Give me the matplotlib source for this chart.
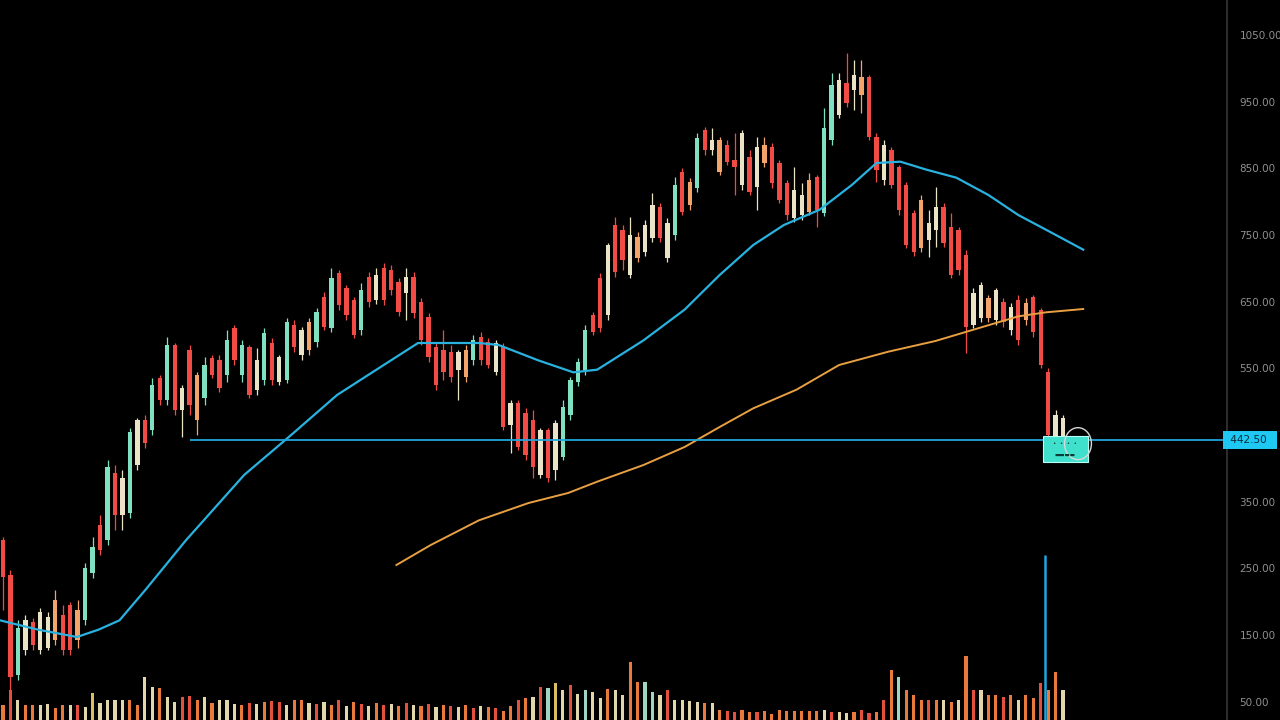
import matplotlib

matplotlib.use("Agg")
import matplotlib.pyplot as plt
from matplotlib.patches import Rectangle, Ellipse

# candle OHLC, in chart price units
opens = [292, 240, 90, 128, 170, 128, 130, 142, 180, 195,
         142, 172, 243, 315, 292, 393, 330, 333, 405, 472,
         458, 536, 502, 585, 488, 578, 540, 506, 566, 562,
         540, 610, 540, 582, 518, 532, 588, 530, 532, 615,
         570, 578, 590, 657, 610, 693, 670, 652, 607, 687,
         652, 700, 698, 680, 663, 687, 650, 627, 582, 578,
         574, 548, 578, 562, 597, 590, 544, 582, 465, 498,
         483, 472, 390, 458, 398, 417, 480, 530, 548, 630,
         686, 630, 765, 758, 690, 747, 724, 746, 792, 716,
         750, 844, 830, 820, 908, 878, 892, 885, 862, 825,
         867, 822, 885, 882, 858, 828, 776, 780, 784, 837,
         783, 892, 930, 978, 968, 960, 987, 897, 832, 878,
         852, 825, 783, 802, 742, 758, 792, 762, 758, 720,
         615, 625, 656, 622, 650, 608, 652, 622, 657, 638,
         544, 447, 442]
highs = [297, 248, 172, 180, 176, 190, 184, 218, 195, 200,
         202, 258, 297, 330, 412, 405, 398, 460, 476, 480,
         536, 540, 597, 588, 525, 585, 544, 567, 570, 570,
         608, 615, 592, 585, 580, 610, 596, 570, 626, 622,
         612, 626, 640, 664, 700, 698, 675, 657, 678, 694,
         700, 708, 705, 685, 700, 694, 656, 633, 588, 608,
         585, 578, 585, 600, 604, 596, 592, 588, 502, 502,
         490, 488, 460, 460, 472, 502, 537, 566, 615, 634,
         693, 738, 777, 765, 777, 754, 772, 813, 798, 776,
         837, 850, 836, 903, 912, 910, 897, 892, 903, 908,
         878, 897, 897, 888, 862, 832, 852, 828, 843, 840,
         940, 993, 993, 1023, 1012, 1012, 990, 903, 892, 882,
         855, 830, 788, 810, 788, 822, 798, 783, 762, 728,
         670, 680, 660, 670, 656, 648, 660, 656, 660, 640,
         550, 488, 480]
lows = [188, 68, 82, 120, 128, 122, 128, 135, 120, 120,
        130, 165, 236, 270, 285, 308, 308, 326, 398, 430,
        450, 495, 495, 480, 447, 480, 450, 495, 536, 514,
        530, 555, 530, 506, 510, 525, 525, 525, 528, 574,
        562, 570, 582, 608, 604, 638, 622, 596, 600, 642,
        646, 645, 660, 628, 622, 625, 585, 560, 518, 532,
        530, 502, 530, 555, 555, 550, 540, 458, 423, 428,
        412, 386, 386, 380, 382, 412, 472, 524, 540, 600,
        604, 622, 687, 698, 685, 710, 718, 740, 740, 710,
        742, 780, 788, 814, 870, 870, 840, 855, 810, 818,
        810, 788, 852, 820, 798, 772, 770, 772, 780, 762,
        778, 885, 926, 942, 938, 933, 892, 830, 825, 820,
        780, 730, 718, 724, 717, 732, 732, 685, 690, 573,
        610, 620, 620, 615, 612, 600, 585, 615, 597, 550,
        446, 442, 440]
closes = [237, 87, 160, 172, 135, 184, 177, 202, 128, 128,
          188, 250, 282, 278, 402, 330, 386, 454, 472, 438,
          525, 502, 585, 488, 520, 495, 472, 555, 540, 520,
          592, 562, 585, 510, 562, 603, 532, 567, 620, 582,
          608, 620, 634, 612, 686, 645, 630, 600, 668, 650,
          690, 652, 668, 634, 687, 633, 592, 567, 525, 544,
          537, 574, 537, 592, 562, 555, 588, 462, 498, 432,
          420, 402, 458, 386, 468, 492, 532, 560, 608, 604,
          610, 735, 694, 712, 750, 716, 765, 795, 746, 768,
          825, 784, 795, 896, 878, 892, 844, 860, 852, 903,
          814, 882, 858, 828, 802, 780, 818, 810, 832, 788,
          910, 975, 982, 948, 990, 987, 897, 848, 885, 825,
          788, 735, 724, 730, 768, 792, 738, 690, 698, 612,
          663, 675, 625, 668, 620, 642, 592, 648, 604, 555,
          450, 480, 476]
# r = red, g = teal, w = cream, o = orange
tones = list("rrgwrwworr" "oggrgrwgwr" "grgrwrogrr" "grgrwgrwgr" "wogrgrrrgr"
             "wrrrwrrrrr" "rwogrrwrwr" "rrwrwggggr" "rwrrwowwrw" "grogrworrw"
             "rworrrwwor" "ggwrworrwr" "rrrowwrrrr" "wwowrwrorr" "rww")

volumes = [15, 30, 20, 15, 15, 15, 16, 12, 15, 15,
           15, 13, 27, 17, 20, 20, 20, 20, 15, 43,
           33, 32, 23, 18, 23, 24, 20, 23, 17, 20,
           20, 16, 15, 17, 16, 18, 19, 18, 15, 20,
           20, 17, 16, 18, 15, 20, 14, 18, 16, 14,
           17, 15, 16, 14, 17, 15, 14, 16, 13, 15,
           14, 13, 15, 12, 14, 13, 12, 9, 14, 20,
           22, 23, 33, 32, 37, 30, 35, 26, 30, 28,
           22, 31, 30, 25, 58, 38, 38, 28, 25, 30,
           20, 20, 19, 18, 17, 17, 10, 9, 8, 10,
           8, 8, 9, 6, 10, 9, 9, 9, 9, 9,
           10, 8, 8, 7, 8, 10, 7, 8, 20, 50,
           43, 30, 25, 20, 20, 20, 20, 18, 20, 64,
           30, 30, 25, 25, 23, 25, 20, 25, 22, 37,
           30, 48, 30]
vol_tones = list("orwoowwoow" "rwywwwwoow" "wowwrrowow" "wworworrwo" "owrworworw"
                 "orworworwo" "rworworoor" "owrgywrwgw" "wowwooggwr" "wwwwoworro"
                 "oroooooooo" "wrwworroro" "gooorowowo" "rwoorowoor" "oow")
spike_at = 139.6
spike_volume = 165

# moving averages (bar index, value)
ma_fast_idx = [-0.4, 4.7, 9.9, 12.8, 15.6, 19.1, 24.5, 32.3, 38.6, 44.75, 51,
               55.6, 63.75, 66.4, 71.7, 76.4, 79.6, 85.8, 91.3, 96, 100.5,
               104.6, 109.4, 113.7, 117, 120.2, 123.7, 127.7, 132, 136, 139.7, 144.7]
ma_fast = [172, 158, 147, 158, 172, 218, 292, 390, 450, 510, 555,
           588, 588, 585, 562, 544, 548, 592, 638, 690, 735,
           765, 788, 825, 858, 860, 848, 836, 810, 780, 758, 728]
ma_slow_idx = [52.7, 57.3, 63.75, 70.4, 75.7, 79.6, 85.8, 91.3, 96, 100.5,
               106.3, 112, 118.6, 124.9, 130.6, 136, 139.7, 144.7]
ma_slow = [255, 285, 322, 348, 363, 380, 405, 432, 462, 490,
           518, 555, 575, 591, 610, 628, 634, 639]

last_price = 442.5
level_start = 25
price_ticks = [50, 150, 250, 350, 550, 650, 750, 850, 950, 1050]

CANDLE = {"r": "#f24a44", "g": "#7fe0c2", "w": "#ebe3c6", "o": "#f3a46a"}
VOL = {"r": "#e4503e", "g": "#9fd6c2", "w": "#e2d7aa", "o": "#ea7a3c", "y": "#d9bf62"}

fig = plt.figure(figsize=(12.8, 7.2), dpi=100, facecolor="black")
ax = fig.add_axes([0, 0, 1227 / 1280, 1])
axv = ax.twinx()
ax.set_zorder(2)
ax.patch.set_visible(False)
axv.set_zorder(1)
axv.set_facecolor("black")

idx = list(range(len(opens)))
colors = [CANDLE[t] for t in tones]
ax.vlines(idx, lows, highs, colors=colors, lw=0.9, zorder=3)
bottoms = [min(o, c) for o, c in zip(opens, closes)]
heights = [max(abs(o - c), 4) for o, c in zip(opens, closes)]
ax.bar(idx, heights, bottom=bottoms, width=0.58, color=colors, zorder=4)

ax.plot(ma_fast_idx, ma_fast, color="#29b2e0", lw=1.6, zorder=5)
ax.plot(ma_slow_idx, ma_slow, color="#e9a043", lw=1.4, zorder=5)
ax.hlines(last_price, level_start, 170, color="#1fa6dc", lw=1.3, zorder=5)

# price tag next to the last candles
ax.add_patch(Rectangle((139.3, 409), 6.0, 40, facecolor="#3fe0cc", edgecolor="#b8fff4",
                       lw=0.8, zorder=6))
ax.add_patch(Ellipse((144.0, 437), 3.6, 48, fill=False, edgecolor="#d8d8d8", lw=1.0, zorder=6))
ax.text(142.2, 437, "•  •  •  •", fontsize=4, color="#0c3a34", ha="center", va="center", zorder=7)
ax.text(142.2, 419, "▬▬▬▬", fontsize=4, color="#0c3a34", ha="center", va="center", zorder=7)

axv.bar(idx, volumes, width=0.42, color=[VOL[t] for t in vol_tones])
axv.vlines(spike_at, 0, spike_volume, color="#1fa6dc", lw=1.8)
axv.set_ylim(0, 720)
axv.axis("off")

ax.set_xlim(-0.4, 163.96)
ax.set_ylim(22.5, 1102.5)
ax.set_xticks([])
ax.yaxis.tick_right()
ax.set_yticks(price_ticks)
ax.set_yticklabels([f"{v:.2f}" for v in price_ticks])
ax.tick_params(axis="y", colors="#8f8f8f", length=0, pad=9, labelsize=7.5)
for side in ["top", "left", "bottom"]:
    ax.spines[side].set_visible(False)
ax.spines["right"].set_color("#2c2c2c")
ax.spines["right"].set_linewidth(1.5)

ax.text(1.0, last_price, f" {last_price:.2f}  ", transform=ax.get_yaxis_transform(),
        ha="left", va="center", fontsize=7.5, color="#0b2a3a", zorder=8,
        bbox=dict(boxstyle="square,pad=0.35", fc="#1ec8f2", ec="none"))

fig.savefig("out.png", dpi=100, facecolor="black")
